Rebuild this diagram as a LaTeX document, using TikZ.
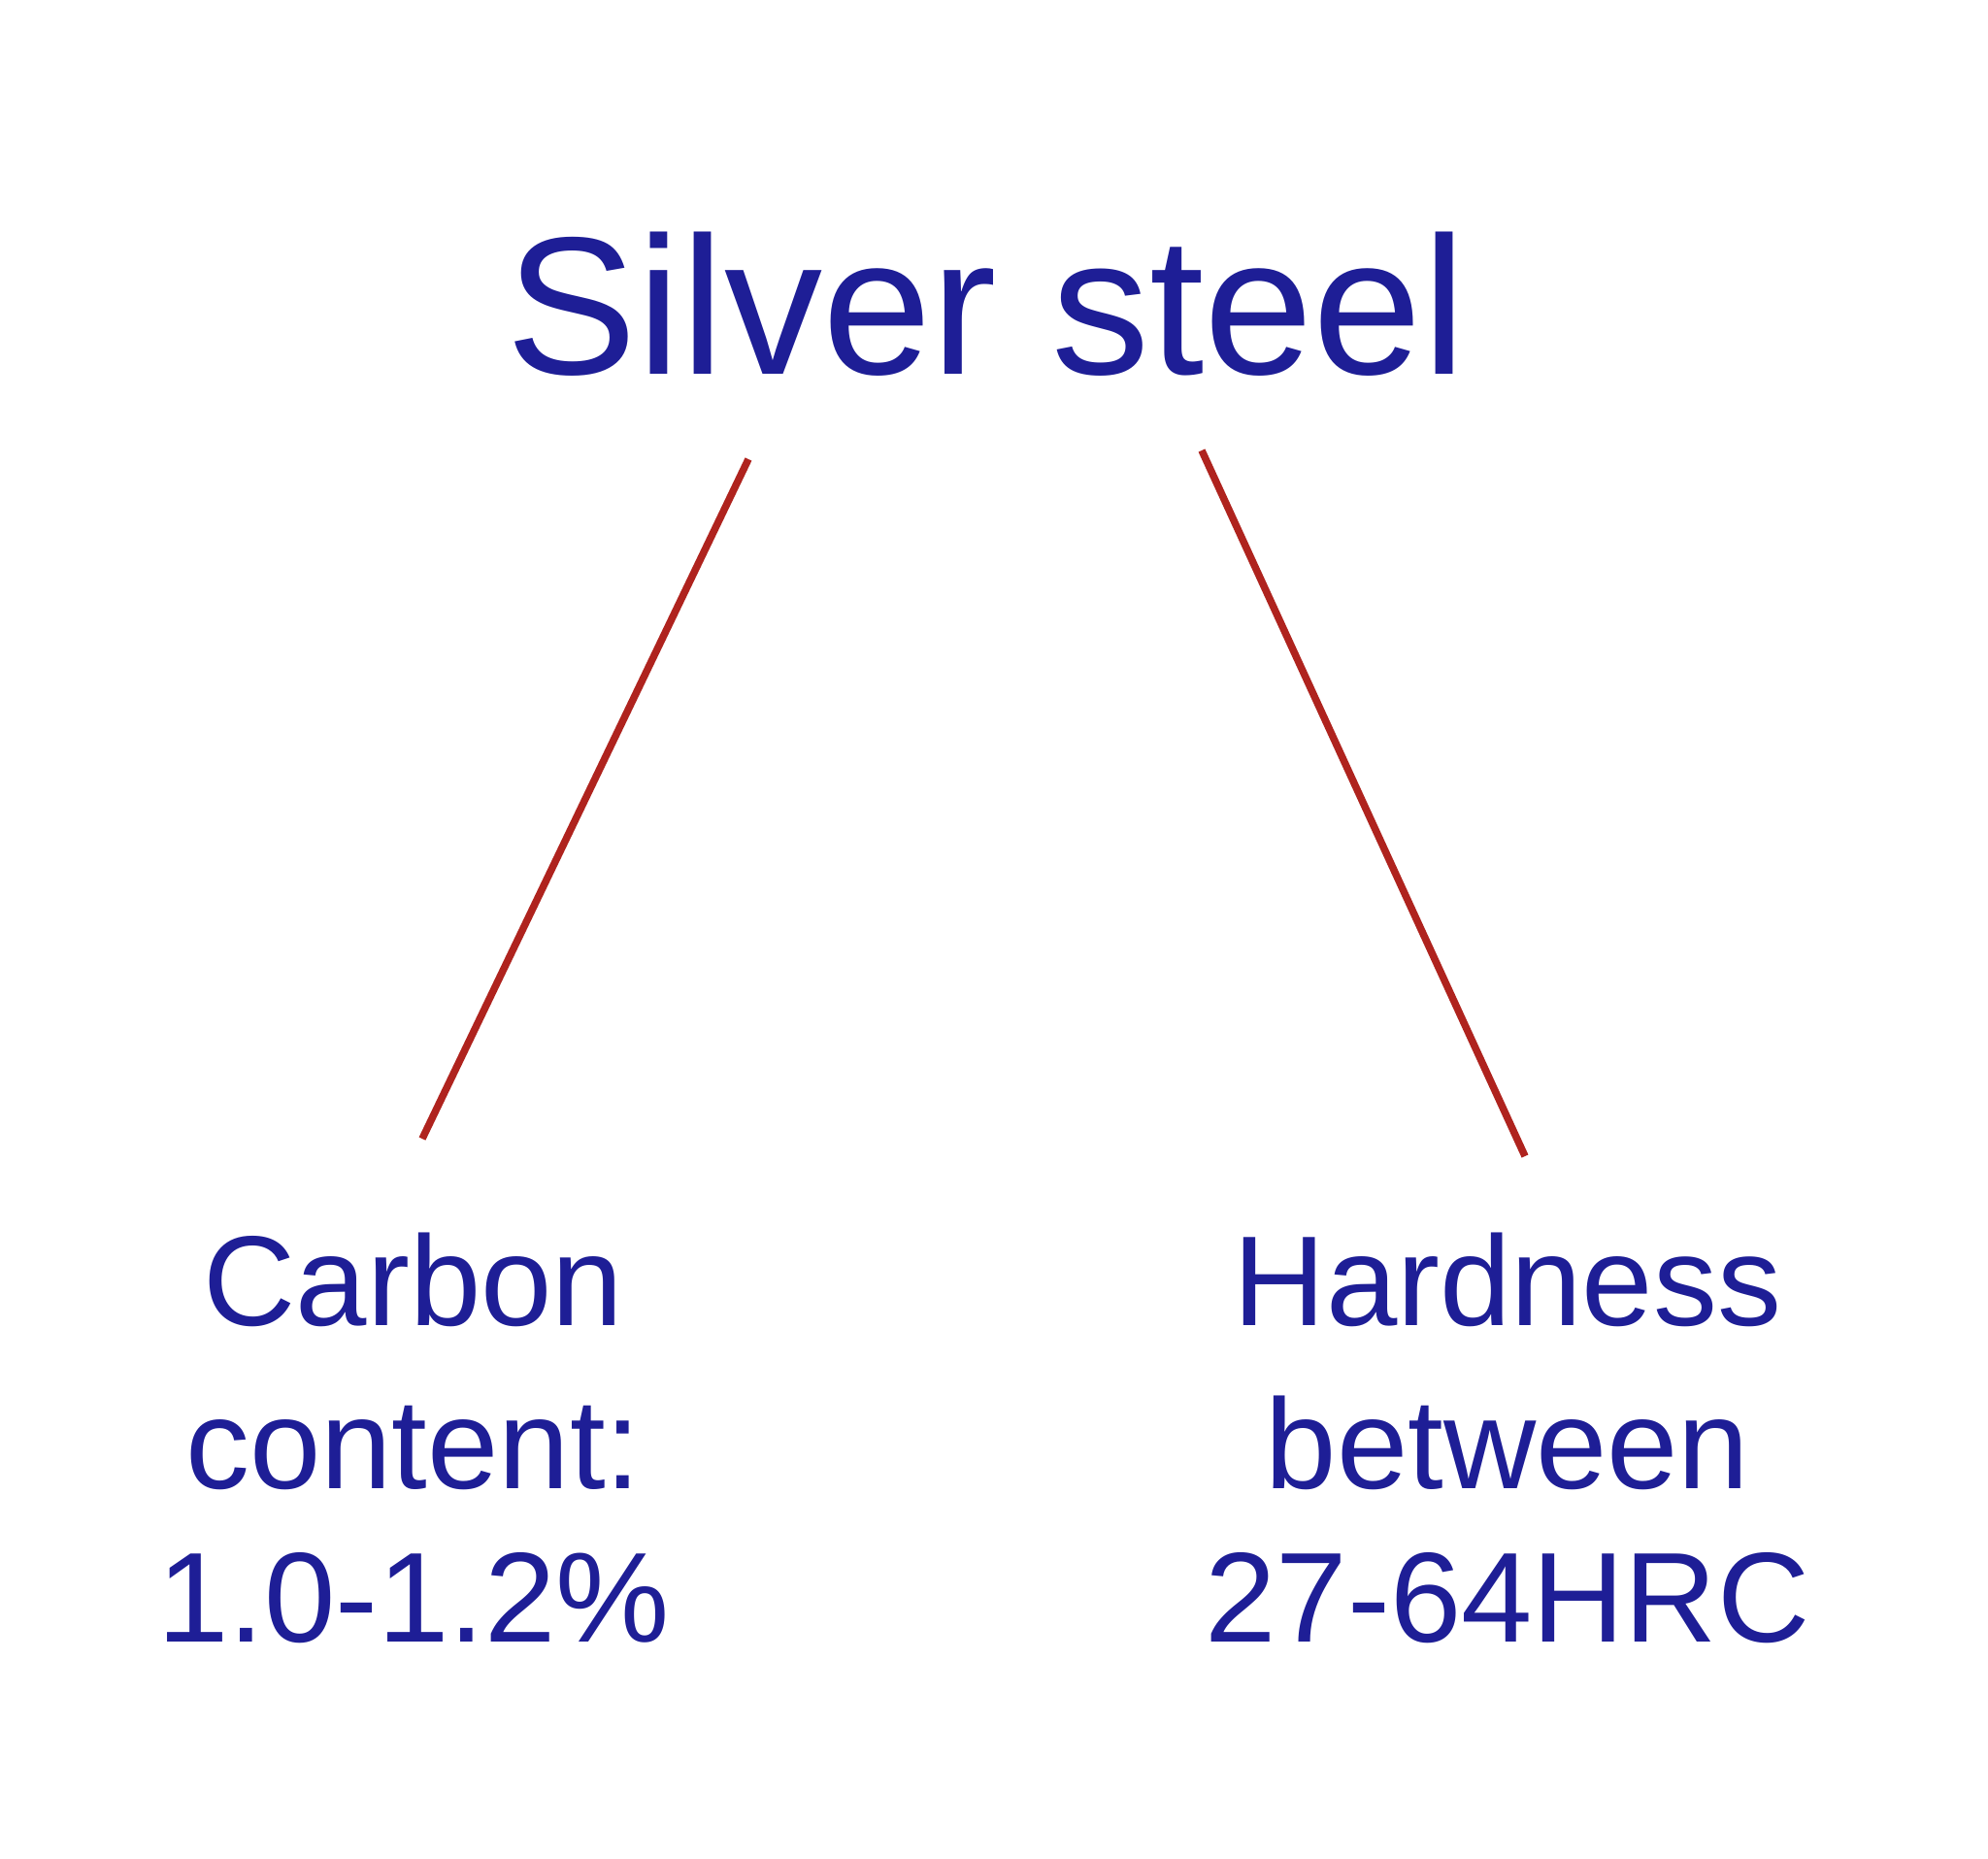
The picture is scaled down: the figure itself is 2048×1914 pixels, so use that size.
\documentclass[tikz,border=0pt]{standalone}
\usepackage{fontspec}
\setmainfont{Liberation Sans}
\definecolor{txtblue}{RGB}{30,30,150}
\definecolor{linered}{RGB}{175,35,30}
\begin{document}
\begin{tikzpicture}[x=0.01cm,y=-0.01cm,
  titletext/.style={anchor=base,inner sep=0pt,text=txtblue,font=\fontsize{57.5}{62}\selectfont},
  bodytext/.style={anchor=base,inner sep=0pt,text=txtblue,font=\fontsize{37.5}{42}\selectfont},
  link/.style={draw=linered,line width=0.075cm}]
\useasboundingbox[fill=white] (0,0) rectangle (2048,1914);
\node[titletext] (title) at (1016,385) {Silver steel};
\node[bodytext] (c1) at (426,1365) {Carbon};
\node[bodytext] (c2) at (426,1533) {content:};
\node[bodytext] (c3) at (426,1691) {1.0-1.2\%};
\node[bodytext] (h1) at (1553,1365) {Hardness};
\node[bodytext] (h2) at (1553,1533) {between};
\node[bodytext] (h3) at (1553,1691) {27-64HRC};
\coordinate (la) at (771,473);
\coordinate (lb) at (435,1173);
\coordinate (ra) at (1238,464);
\coordinate (rb) at (1571,1191);
\draw[link] (la) -- (lb);
\draw[link] (ra) -- (rb);
\end{tikzpicture}
\end{document}
